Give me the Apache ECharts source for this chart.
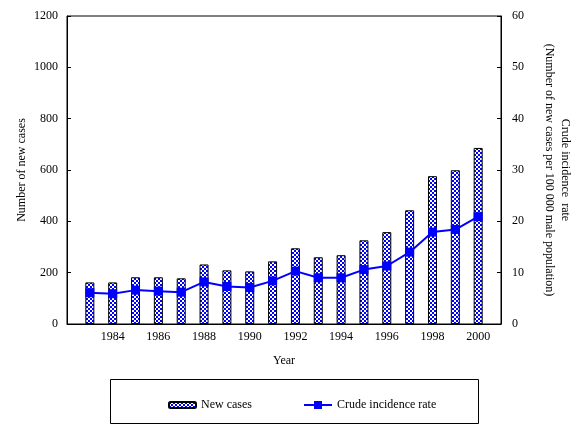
<!DOCTYPE html>
<html>
	<head>
		<meta charset="UTF-8">
		<title>New cases and crude incidence rate</title>
		<script src="https://cdn.jsdelivr.net/npm/echarts@6/dist/echarts.min.js"></script>
		<style>html,body,#container{width:100%;height:100%;margin:0;padding:0;background:#fff;}</style>
	</head>
	<body>
		<div id="container"></div>
		<script>
		// 数据
		var years = [1983, 1984, 1985, 1986, 1987, 1988, 1989, 1990, 1991, 1992, 1993, 1994, 1995, 1996, 1997, 1998, 1999, 2000];
		var newCases = [162, 162, 182, 182, 178, 232, 209, 205, 244, 295, 260, 268, 326, 358, 443, 576, 599, 686];
		var crudeRate = [6.1, 5.9, 6.6, 6.4, 6.2, 8.2, 7.3, 7.1, 8.4, 10.3, 9.0, 9.0, 10.6, 11.3, 14.0, 17.9, 18.4, 20.9];

		var font = 'Liberation Serif';

		// 蓝白格子填充
		var tile = document.createElement('canvas');
		tile.width = 4;
		tile.height = 4;
		var ctx = tile.getContext('2d');
		ctx.fillStyle = '#fff';
		ctx.fillRect(0, 0, 4, 4);
		ctx.fillStyle = '#0000ff';
		ctx.fillRect(0, 0, 2, 2);
		ctx.fillRect(2, 2, 2, 2);

		var chart = echarts.init(document.getElementById('container'));
		var option = {
			backgroundColor: '#fff',
			animation: false,
			textStyle: { fontFamily: font, color: '#000' },
			grid: {
				left: 67, right: 82, top: 16, bottom: 114,
				show: true, borderColor: '#000', borderWidth: 1
			},
			graphic: [{
				type: 'rect',
				shape: { x: 110.5, y: 379.5, width: 368, height: 44 },
				style: { fill: 'none', stroke: '#000', lineWidth: 1 }
			}],
			legend: [{
				data: ['New cases'],
				left: 163, top: 394,
				itemWidth: 27, itemHeight: 6, itemGap: 2,
				textStyle: { fontFamily: font, fontSize: 12, color: '#000' }
			}, {
				data: ['Crude incidence rate'],
				left: 298, top: 394,
				itemWidth: 28, itemHeight: 10, itemGap: 2,
				textStyle: { fontFamily: font, fontSize: 12, color: '#000' }
			}],
			xAxis: {
				type: 'value',
				min: 1982, max: 2001, interval: 2,
				name: 'Year', nameLocation: 'middle', nameGap: 31,
				nameTextStyle: { fontFamily: font, fontSize: 12, color: '#000' },
				axisLine: { lineStyle: { color: '#000', width: 1 } },
				axisTick: { show: false },
				splitLine: { show: false },
				axisLabel: {
					fontFamily: font, fontSize: 12, color: '#000', margin: 7,
					formatter: function (v) { return (v % 2 === 0 && v > 1982) ? String(v) : ''; }
				}
			},
			yAxis: [{
				type: 'value', position: 'left',
				min: 0, max: 1200, interval: 200,
				name: 'Number of new cases', nameLocation: 'middle', nameGap: 39,
				nameMoveOverlap: false,
				nameTextStyle: { fontFamily: font, fontSize: 12, color: '#000' },
				axisLine: { show: true, lineStyle: { color: '#000' } },
				axisTick: { show: true, inside: true, length: 4, lineStyle: { color: '#000' } },
				splitLine: { show: false },
				axisLabel: {
					fontFamily: font, fontSize: 12, color: '#000', margin: 9,
					formatter: function (v) { return String(v); }
				}
			}, {
				type: 'value', position: 'right',
				min: 0, max: 60, interval: 10,
				name: 'Crude incidence  rate\n(Number of new cases per 100 000 male population)',
				nameLocation: 'middle', nameGap: 40, nameRotate: -90,
				nameTextStyle: { fontFamily: font, fontSize: 12, color: '#000', lineHeight: 16 },
				axisLine: { show: true, lineStyle: { color: '#000' } },
				axisTick: { show: true, inside: true, length: 4, lineStyle: { color: '#000' } },
				splitLine: { show: false },
				axisLabel: { fontFamily: font, fontSize: 12, color: '#000', margin: 11 }
			}],
			series: [{
				name: 'New cases',
				type: 'bar',
				yAxisIndex: 0,
				barWidth: 9,
				itemStyle: {
					color: { image: tile, repeat: 'repeat' },
					borderColor: '#000',
					borderWidth: 1
				},
				data: years.map(function (y, i) { return [y, newCases[i]]; })
			}, {
				name: 'Crude incidence rate',
				type: 'line',
				yAxisIndex: 1,
				symbol: 'rect',
				symbolSize: 9,
				itemStyle: { color: '#0000ff' },
				lineStyle: { color: '#0000ff', width: 2 },
				data: years.map(function (y, i) { return [y, crudeRate[i]]; })
			}]
		};
		chart.setOption(option);
		</script>
	</body>
</html>
